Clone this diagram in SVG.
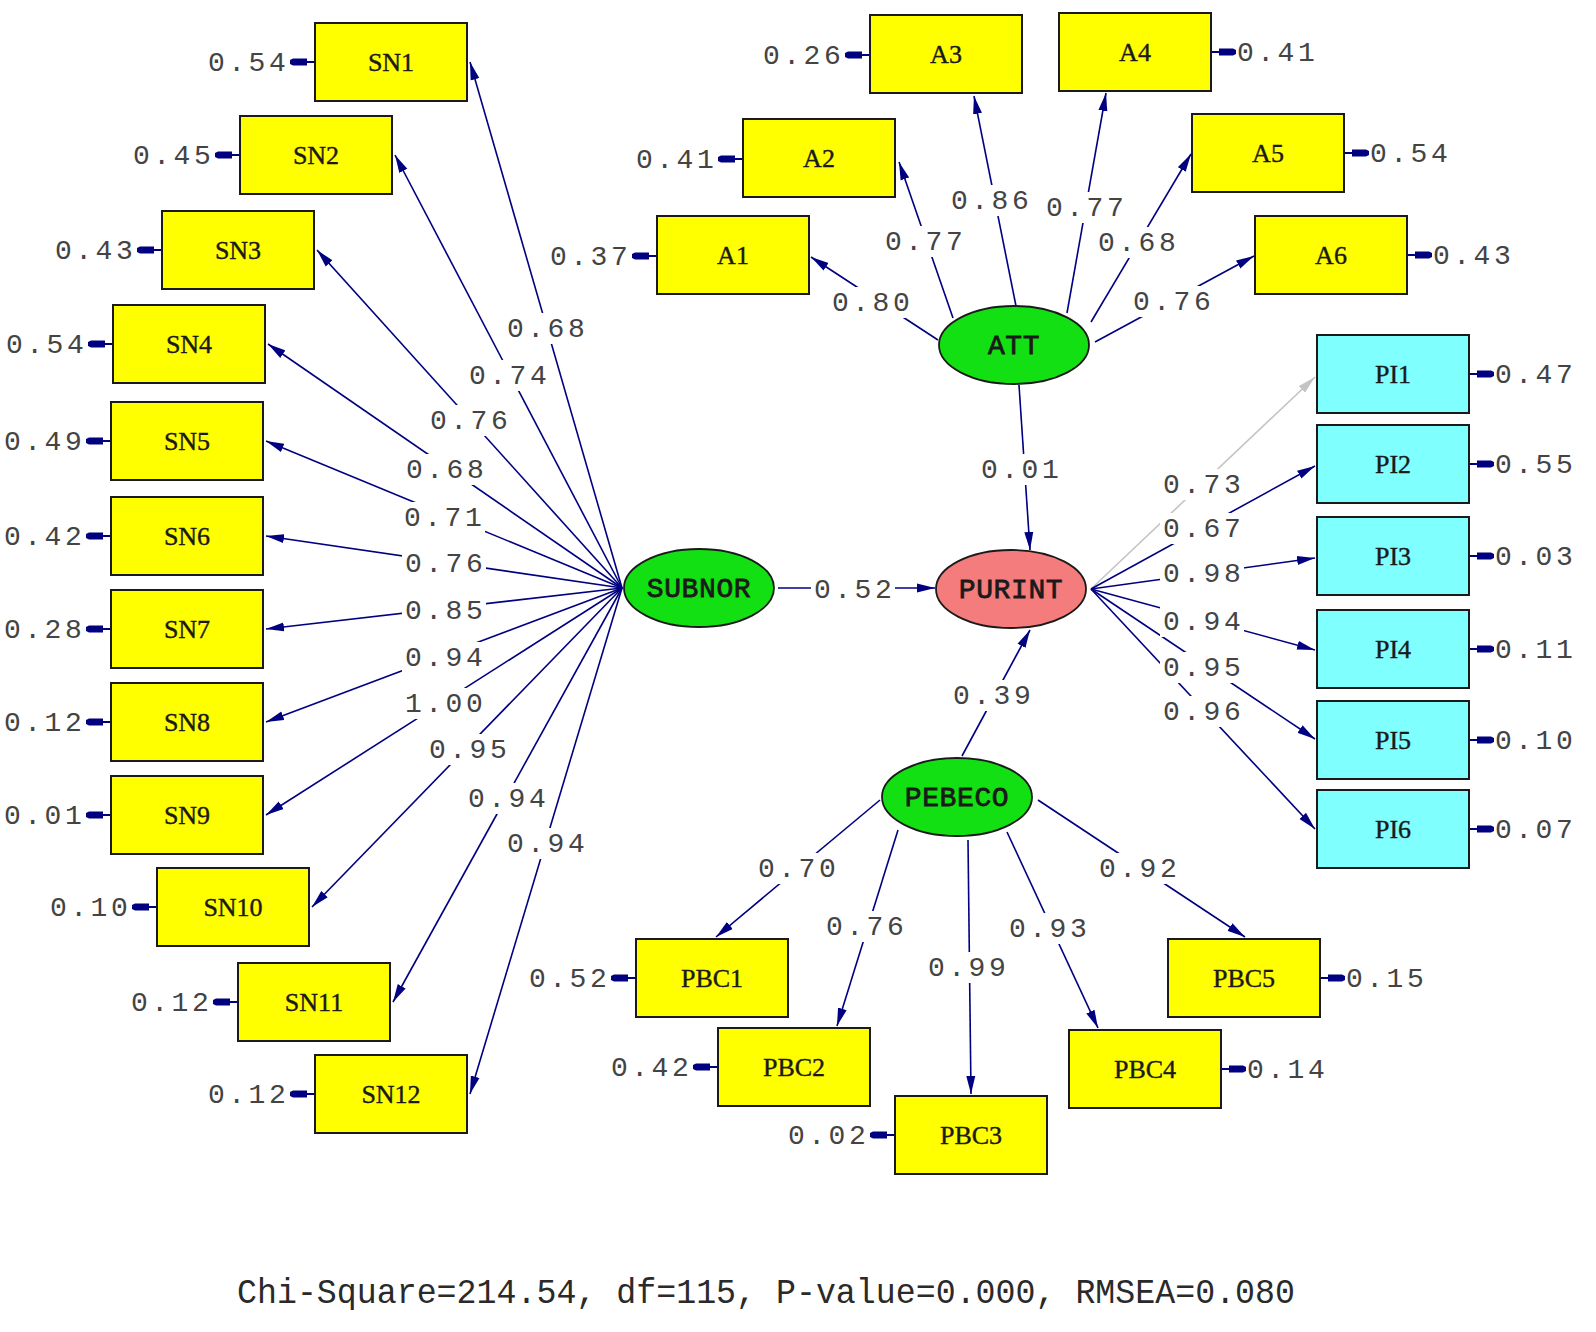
<svg xmlns="http://www.w3.org/2000/svg" width="1596" height="1332" viewBox="0 0 1596 1332">
<style>
.box{stroke:#1a1a1a;stroke-width:2}
.ind{fill:#ffff00}
.pi{fill:#80ffff}
.lat{fill:#12e012;stroke:#1a1a1a;stroke-width:1.8}
.end{fill:#f47c7c;stroke:#1a1a1a;stroke-width:1.8}
.edge{stroke:#000080;stroke-width:1.6;fill:none;marker-end:url(#ah)}
.gedge{stroke:#c4c4c4;stroke-width:1.6;fill:none;marker-end:url(#ahg)}
.err{stroke:#000080;stroke-width:2;marker-start:url(#eb)}
.num{font-family:"Liberation Mono",monospace;font-size:28px;letter-spacing:3.5px;fill:#444}
.bg{fill:#fff}
.bl{font-family:"Liberation Serif",serif;font-size:26px;fill:#1a1a1a;stroke:#1a1a1a;stroke-width:0.4;text-anchor:middle}
.el{font-family:"Liberation Mono",monospace;font-size:28px;letter-spacing:0.6px;fill:#1a1a1a;stroke:#1a1a1a;stroke-width:0.8;text-anchor:middle}
.stat{font-family:"Liberation Mono",monospace;font-size:35px;fill:#2a2a2a}
</style>
<defs>
<marker id="ah" markerUnits="userSpaceOnUse" markerWidth="20" markerHeight="10" viewBox="0 -5 20 10" refX="18" refY="0" orient="auto"><path d="M0,-4.5 L18,0 L0,4.5 Z" fill="#000080"/></marker>
<marker id="ahg" markerUnits="userSpaceOnUse" markerWidth="20" markerHeight="10" viewBox="0 -5 20 10" refX="18" refY="0" orient="auto"><path d="M0,-4.5 L18,0 L0,4.5 Z" fill="#c4c4c4"/></marker>
<marker id="eb" markerUnits="userSpaceOnUse" markerWidth="20" markerHeight="10" viewBox="0 -5 20 10" refX="0" refY="0" orient="auto"><path d="M0,-2 L3,-3.5 L17,-3.5 L17,3.5 L3,3.5 L0,2 Z" fill="#000080"/></marker>
</defs>
<rect width="1596" height="1332" fill="#fff"/>

<g id="connectors">
<line class="edge" x1="622" y1="588" x2="470" y2="62"/>
<line class="edge" x1="622" y1="588" x2="395" y2="155"/>
<line class="edge" x1="622" y1="588" x2="317" y2="250"/>
<line class="edge" x1="622" y1="588" x2="268" y2="344"/>
<line class="edge" x1="622" y1="588" x2="266" y2="441"/>
<line class="edge" x1="622" y1="588" x2="266" y2="536"/>
<line class="edge" x1="622" y1="588" x2="266" y2="629"/>
<line class="edge" x1="622" y1="588" x2="266" y2="722"/>
<line class="edge" x1="622" y1="588" x2="266" y2="815"/>
<line class="edge" x1="622" y1="588" x2="312" y2="907"/>
<line class="edge" x1="622" y1="588" x2="393" y2="1002"/>
<line class="edge" x1="622" y1="588" x2="470" y2="1094"/>
<line class="edge" x1="938" y1="340" x2="811" y2="257"/>
<line class="edge" x1="953" y1="318" x2="899" y2="162"/>
<line class="edge" x1="1016" y1="306" x2="974" y2="96"/>
<line class="edge" x1="1067" y1="313" x2="1106" y2="93"/>
<line class="edge" x1="1091" y1="322" x2="1191" y2="154"/>
<line class="edge" x1="1095" y1="342" x2="1254" y2="256"/>
<line class="edge" x1="1019" y1="385" x2="1030" y2="550"/>
<line class="edge" x1="778" y1="588" x2="935" y2="588"/>
<line class="edge" x1="962" y1="756" x2="1030" y2="630"/>
<line class="gedge" x1="1091" y1="589" x2="1315" y2="377"/>
<line class="edge" x1="1091" y1="589" x2="1315" y2="466"/>
<line class="edge" x1="1091" y1="589" x2="1315" y2="558"/>
<line class="edge" x1="1091" y1="589" x2="1315" y2="650"/>
<line class="edge" x1="1091" y1="589" x2="1315" y2="739"/>
<line class="edge" x1="1091" y1="589" x2="1315" y2="829"/>
<line class="edge" x1="880" y1="800" x2="716" y2="937"/>
<line class="edge" x1="898" y1="830" x2="837" y2="1026"/>
<line class="edge" x1="968" y1="840" x2="971" y2="1094"/>
<line class="edge" x1="1007" y1="832" x2="1098" y2="1028"/>
<line class="edge" x1="1038" y1="800" x2="1245" y2="937"/>
<line class="err" x1="290" y1="62" x2="315" y2="62"/>
<line class="err" x1="215" y1="155" x2="240" y2="155"/>
<line class="err" x1="137" y1="250" x2="162" y2="250"/>
<line class="err" x1="88" y1="344" x2="113" y2="344"/>
<line class="err" x1="86" y1="441" x2="111" y2="441"/>
<line class="err" x1="86" y1="536" x2="111" y2="536"/>
<line class="err" x1="86" y1="629" x2="111" y2="629"/>
<line class="err" x1="86" y1="722" x2="111" y2="722"/>
<line class="err" x1="86" y1="815" x2="111" y2="815"/>
<line class="err" x1="132" y1="907" x2="157" y2="907"/>
<line class="err" x1="213" y1="1002" x2="238" y2="1002"/>
<line class="err" x1="290" y1="1094" x2="315" y2="1094"/>
<line class="err" x1="632" y1="256" x2="657" y2="256"/>
<line class="err" x1="718" y1="159" x2="743" y2="159"/>
<line class="err" x1="845" y1="55" x2="870" y2="55"/>
<line class="err" x1="1236" y1="52" x2="1211" y2="52"/>
<line class="err" x1="1369" y1="153" x2="1344" y2="153"/>
<line class="err" x1="1432" y1="255" x2="1407" y2="255"/>
<line class="err" x1="1494" y1="374" x2="1469" y2="374"/>
<line class="err" x1="1494" y1="464" x2="1469" y2="464"/>
<line class="err" x1="1494" y1="556" x2="1469" y2="556"/>
<line class="err" x1="1494" y1="649" x2="1469" y2="649"/>
<line class="err" x1="1494" y1="740" x2="1469" y2="740"/>
<line class="err" x1="1494" y1="829" x2="1469" y2="829"/>
<line class="err" x1="611" y1="978" x2="636" y2="978"/>
<line class="err" x1="693" y1="1067" x2="718" y2="1067"/>
<line class="err" x1="870" y1="1135" x2="895" y2="1135"/>
<line class="err" x1="1246" y1="1069" x2="1221" y2="1069"/>
<line class="err" x1="1345" y1="978" x2="1320" y2="978"/>
</g>

<g id="connector-labels">
<rect class="bg" x="504" y="313" width="84" height="31"/><text class="num" x="507" y="336.5">0.68</text>
<rect class="bg" x="466" y="360" width="84" height="31"/><text class="num" x="469" y="383.5">0.74</text>
<rect class="bg" x="427" y="405" width="84" height="31"/><text class="num" x="430" y="428.5">0.76</text>
<rect class="bg" x="403" y="454" width="84" height="31"/><text class="num" x="406" y="477.5">0.68</text>
<rect class="bg" x="401" y="502" width="84" height="31"/><text class="num" x="404" y="525.5">0.71</text>
<rect class="bg" x="402" y="548" width="84" height="31"/><text class="num" x="405" y="571.5">0.76</text>
<rect class="bg" x="402" y="595" width="84" height="31"/><text class="num" x="405" y="618.5">0.85</text>
<rect class="bg" x="402" y="642" width="84" height="31"/><text class="num" x="405" y="665.5">0.94</text>
<rect class="bg" x="402" y="688" width="84" height="31"/><text class="num" x="405" y="711.5">1.00</text>
<rect class="bg" x="426" y="734" width="84" height="31"/><text class="num" x="429" y="757.5">0.95</text>
<rect class="bg" x="465" y="783" width="84" height="31"/><text class="num" x="468" y="806.5">0.94</text>
<rect class="bg" x="504" y="828" width="84" height="31"/><text class="num" x="507" y="851.5">0.94</text>

<rect class="bg" x="829" y="287" width="84" height="31"/><text class="num" x="832" y="310.5">0.80</text>
<rect class="bg" x="882" y="226" width="84" height="31"/><text class="num" x="885" y="249.5">0.77</text>
<rect class="bg" x="948" y="185" width="84" height="31"/><text class="num" x="951" y="208.5">0.86</text>
<rect class="bg" x="1043" y="192" width="84" height="31"/><text class="num" x="1046" y="215.5">0.77</text>
<rect class="bg" x="1095" y="227" width="84" height="31"/><text class="num" x="1098" y="250.5">0.68</text>
<rect class="bg" x="1130" y="286" width="84" height="31"/><text class="num" x="1133" y="309.5">0.76</text>

<rect class="bg" x="978" y="454" width="84" height="31"/><text class="num" x="981" y="477.5">0.01</text>
<rect class="bg" x="811" y="574" width="84" height="31"/><text class="num" x="814" y="597.5">0.52</text>
<rect class="bg" x="950" y="680" width="84" height="31"/><text class="num" x="953" y="703.5">0.39</text>

<rect class="bg" x="1160" y="469" width="84" height="31"/><text class="num" x="1163" y="492.5">0.73</text>
<rect class="bg" x="1160" y="513" width="84" height="31"/><text class="num" x="1163" y="536.5">0.67</text>
<rect class="bg" x="1160" y="558" width="84" height="31"/><text class="num" x="1163" y="581.5">0.98</text>
<rect class="bg" x="1160" y="606" width="84" height="31"/><text class="num" x="1163" y="629.5">0.94</text>
<rect class="bg" x="1160" y="652" width="84" height="31"/><text class="num" x="1163" y="675.5">0.95</text>
<rect class="bg" x="1160" y="696" width="84" height="31"/><text class="num" x="1163" y="719.5">0.96</text>

<rect class="bg" x="755" y="853" width="84" height="31"/><text class="num" x="758" y="876.5">0.70</text>
<rect class="bg" x="823" y="911" width="84" height="31"/><text class="num" x="826" y="934.5">0.76</text>
<rect class="bg" x="925" y="952" width="84" height="31"/><text class="num" x="928" y="975.5">0.99</text>
<rect class="bg" x="1006" y="913" width="84" height="31"/><text class="num" x="1009" y="936.5">0.93</text>
<rect class="bg" x="1096" y="853" width="84" height="31"/><text class="num" x="1099" y="876.5">0.92</text>
</g>

<g id="error-labels">
<text class="num" x="208" y="71">0.54</text>
<text class="num" x="133" y="164">0.45</text>
<text class="num" x="55" y="259">0.43</text>
<text class="num" x="6" y="353">0.54</text>
<text class="num" x="4" y="450">0.49</text>
<text class="num" x="4" y="545">0.42</text>
<text class="num" x="4" y="638">0.28</text>
<text class="num" x="4" y="731">0.12</text>
<text class="num" x="4" y="824">0.01</text>
<text class="num" x="50" y="916">0.10</text>
<text class="num" x="131" y="1011">0.12</text>
<text class="num" x="208" y="1103">0.12</text>
<text class="num" x="550" y="265">0.37</text>
<text class="num" x="636" y="168">0.41</text>
<text class="num" x="763" y="64">0.26</text>
<text class="num" x="1237" y="61">0.41</text>
<text class="num" x="1370" y="162">0.54</text>
<text class="num" x="1433" y="264">0.43</text>
<text class="num" x="1495" y="383">0.47</text>
<text class="num" x="1495" y="473">0.55</text>
<text class="num" x="1495" y="565">0.03</text>
<text class="num" x="1495" y="658">0.11</text>
<text class="num" x="1495" y="749">0.10</text>
<text class="num" x="1495" y="838">0.07</text>
<text class="num" x="529" y="987">0.52</text>
<text class="num" x="611" y="1076">0.42</text>
<text class="num" x="788" y="1144">0.02</text>
<text class="num" x="1247" y="1078">0.14</text>
<text class="num" x="1346" y="987">0.15</text>
</g>

<g id="SN1"><rect class="box ind" x="315" y="23" width="152" height="78"/><text class="bl" x="391" y="71">SN1</text></g>
<g id="SN2"><rect class="box ind" x="240" y="116" width="152" height="78"/><text class="bl" x="316" y="164">SN2</text></g>
<g id="SN3"><rect class="box ind" x="162" y="211" width="152" height="78"/><text class="bl" x="238" y="259">SN3</text></g>
<g id="SN4"><rect class="box ind" x="113" y="305" width="152" height="78"/><text class="bl" x="189" y="353">SN4</text></g>
<g id="SN5"><rect class="box ind" x="111" y="402" width="152" height="78"/><text class="bl" x="187" y="450">SN5</text></g>
<g id="SN6"><rect class="box ind" x="111" y="497" width="152" height="78"/><text class="bl" x="187" y="545">SN6</text></g>
<g id="SN7"><rect class="box ind" x="111" y="590" width="152" height="78"/><text class="bl" x="187" y="638">SN7</text></g>
<g id="SN8"><rect class="box ind" x="111" y="683" width="152" height="78"/><text class="bl" x="187" y="731">SN8</text></g>
<g id="SN9"><rect class="box ind" x="111" y="776" width="152" height="78"/><text class="bl" x="187" y="824">SN9</text></g>
<g id="SN10"><rect class="box ind" x="157" y="868" width="152" height="78"/><text class="bl" x="233" y="916">SN10</text></g>
<g id="SN11"><rect class="box ind" x="238" y="963" width="152" height="78"/><text class="bl" x="314" y="1011">SN11</text></g>
<g id="SN12"><rect class="box ind" x="315" y="1055" width="152" height="78"/><text class="bl" x="391" y="1103">SN12</text></g>

<g id="A1"><rect class="box ind" x="657" y="216" width="152" height="78"/><text class="bl" x="733" y="264">A1</text></g>
<g id="A2"><rect class="box ind" x="743" y="119" width="152" height="78"/><text class="bl" x="819" y="167">A2</text></g>
<g id="A3"><rect class="box ind" x="870" y="15" width="152" height="78"/><text class="bl" x="946" y="63">A3</text></g>
<g id="A4"><rect class="box ind" x="1059" y="13" width="152" height="78"/><text class="bl" x="1135" y="61">A4</text></g>
<g id="A5"><rect class="box ind" x="1192" y="114" width="152" height="78"/><text class="bl" x="1268" y="162">A5</text></g>
<g id="A6"><rect class="box ind" x="1255" y="216" width="152" height="78"/><text class="bl" x="1331" y="264">A6</text></g>

<g id="PI1"><rect class="box pi" x="1317" y="335" width="152" height="78"/><text class="bl" x="1393" y="383">PI1</text></g>
<g id="PI2"><rect class="box pi" x="1317" y="425" width="152" height="78"/><text class="bl" x="1393" y="473">PI2</text></g>
<g id="PI3"><rect class="box pi" x="1317" y="517" width="152" height="78"/><text class="bl" x="1393" y="565">PI3</text></g>
<g id="PI4"><rect class="box pi" x="1317" y="610" width="152" height="78"/><text class="bl" x="1393" y="658">PI4</text></g>
<g id="PI5"><rect class="box pi" x="1317" y="701" width="152" height="78"/><text class="bl" x="1393" y="749">PI5</text></g>
<g id="PI6"><rect class="box pi" x="1317" y="790" width="152" height="78"/><text class="bl" x="1393" y="838">PI6</text></g>

<g id="PBC1"><rect class="box ind" x="636" y="939" width="152" height="78"/><text class="bl" x="712" y="987">PBC1</text></g>
<g id="PBC2"><rect class="box ind" x="718" y="1028" width="152" height="78"/><text class="bl" x="794" y="1076">PBC2</text></g>
<g id="PBC3"><rect class="box ind" x="895" y="1096" width="152" height="78"/><text class="bl" x="971" y="1144">PBC3</text></g>
<g id="PBC4"><rect class="box ind" x="1069" y="1030" width="152" height="78"/><text class="bl" x="1145" y="1078">PBC4</text></g>
<g id="PBC5"><rect class="box ind" x="1168" y="939" width="152" height="78"/><text class="bl" x="1244" y="987">PBC5</text></g>

<g id="SUBNOR"><ellipse class="lat" cx="699" cy="588" rx="75" ry="39"/><text class="el" x="699" y="597">SUBNOR</text></g>
<g id="ATT"><ellipse class="lat" cx="1014" cy="345" rx="75" ry="39"/><text class="el" x="1014" y="354">ATT</text></g>
<g id="PURINT"><ellipse class="end" cx="1011" cy="589" rx="75" ry="39"/><text class="el" x="1011" y="598">PURINT</text></g>
<g id="PEBECO"><ellipse class="lat" cx="957" cy="797" rx="75" ry="39"/><text class="el" x="957" y="806">PEBECO</text></g>

<text class="stat" x="237" y="1303" textLength="1058" lengthAdjust="spacingAndGlyphs">Chi-Square=214.54, df=115, P-value=0.000, RMSEA=0.080</text>
</svg>
